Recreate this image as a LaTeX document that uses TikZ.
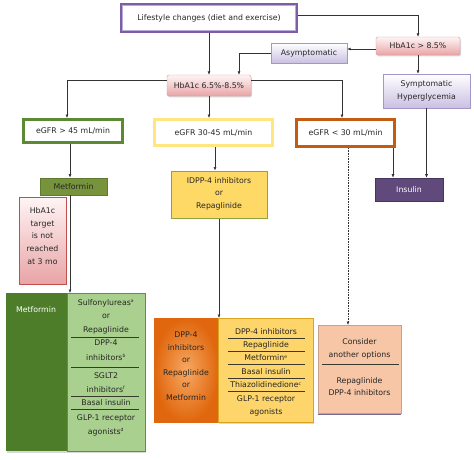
\documentclass[tikz,border=0pt]{standalone}
\usepackage{fontspec}
\setmainfont{DejaVu Sans}
\usetikzlibrary{arrows.meta,shadows,calc}
\definecolor{txt}{HTML}{262626}
\definecolor{arrc}{HTML}{333333}
\definecolor{purpL}{HTML}{7E5DA6}
\definecolor{purpI}{HTML}{B9ABD9}
\definecolor{pinkT}{HTML}{FFF4F4}
\definecolor{pinkB}{HTML}{E8A4A6}
\definecolor{pinkD}{HTML}{D49A9C}
\definecolor{lavT}{HTML}{FFFFFF}
\definecolor{lavB}{HTML}{C9C0E2}
\definecolor{lavD}{HTML}{A496C6}
\definecolor{greenB}{HTML}{5B8A32}
\definecolor{metF}{HTML}{77933C}
\definecolor{metD}{HTML}{5E7A2E}
\definecolor{yelB}{HTML}{FFE680}
\definecolor{yelF}{HTML}{FFD966}
\definecolor{oliveB}{HTML}{8FA345}
\definecolor{orgB}{HTML}{C55A11}
\definecolor{insF}{HTML}{604A7B}
\definecolor{insD}{HTML}{45355E}
\definecolor{tgtB}{HTML}{C0504D}
\definecolor{dkG}{HTML}{4E7D2A}
\definecolor{ltG}{HTML}{A9D08E}
\definecolor{blueB}{HTML}{4A86B4}
\definecolor{orgIn}{HTML}{F7A862}
\definecolor{orgOut}{HTML}{E0670E}
\definecolor{yelR}{HTML}{FDD56A}
\definecolor{yelRB}{HTML}{D9A520}
\definecolor{peach}{HTML}{F6C6A6}
\definecolor{peachB}{HTML}{C9A08A}
\definecolor{conSh}{HTML}{6B5B8C}
\definecolor{sepC}{HTML}{3A3A2A}
\newcommand{\mysup}[1]{\textsuperscript{\fontsize{4.5}{5}\selectfont #1}}
\begin{document}
\begin{tikzpicture}[x=1pt,y=-1pt,
  font=\fontsize{7.8}{12.6}\selectfont,
  box/.style={rectangle, inner sep=0pt, align=center, text=txt},
  shad/.style={drop shadow={shadow xshift=1pt,shadow yshift=-1.3pt,opacity=0.3}},
  pinkbox/.style={box, draw=pinkD, top color=pinkT, bottom color=pinkB, rounded corners=1.5pt, shad},
  lavbox/.style={box, draw=lavD, top color=lavT, bottom color=lavB, shad},
  txtn/.style={inner sep=0pt, align=center, text=txt},
  arr/.style={draw=arrc, line width=0.6pt, -{Latex[length=3.5pt,width=3pt]}},
  sepl/.style={draw=sepC, line width=0.7pt},
]
\useasboundingbox (0,0) rectangle (474,459);
\fill[white] (0,0) rectangle (474,459);

% top level
\node[box, draw=purpL, line width=2.6pt, fill=white, minimum width=176pt, minimum height=28pt, shad] (L) at (209,18) {Lifestyle changes (diet and exercise)};
\draw[purpI, line width=0.7pt] ([shift={(2.6pt,-2.6pt)}]L.north west) rectangle ([shift={(-2.6pt,2.6pt)}]L.south east);

\node[pinkbox, minimum width=84pt, minimum height=18pt] (H85) at (418,46) {HbA1c > 8.5\%};
\node[lavbox, minimum width=76pt, minimum height=20pt] (Asym) at (309,53) {Asymptomatic};
\node[pinkbox, minimum width=84pt, minimum height=21pt] (H65) at (209,85.5) {HbA1c 6.5\%-8.5\%};
\node[lavbox, minimum width=87pt, minimum height=34pt] (Sym) at (426.5,91) {Symptomatic\\Hyperglycemia};

% eGFR level
\node[box, draw=greenB, line width=3pt, fill=white, minimum width=99pt, minimum height=23pt] (E45) at (73,131) {eGFR > 45 mL/min};
\node[box, draw=yelB, line width=3pt, fill=white, minimum width=118pt, minimum height=26pt] (E3045) at (213.5,132.5) {eGFR 30-45 mL/min};
\node[box, draw=orgB, line width=3pt, fill=white, minimum width=98pt, minimum height=27pt] (E30) at (345.5,133) {eGFR < 30 mL/min};

\node[box, fill=metF, draw=metD, line width=0.8pt, minimum width=67pt, minimum height=17pt, shad] (Met) at (73.5,186.5) {Metformin};
\node[box, fill=yelF, draw=oliveB, line width=1pt, minimum width=96pt, minimum height=47pt, shad] (IDPP) at (219,194.5) {};
\node[txtn] (IDPPt1) at (219,181) {IDPP-4 inhibitors};
\node[txtn] (IDPPt2) at (219,193) {or};
\node[txtn] (IDPPt3) at (219,206) {Repaglinide};
\node[box, fill=insF, draw=insD, line width=0.6pt, text=white, minimum width=68pt, minimum height=23pt, shad] (Ins) at (409,189.5) {Insulin};

\node[box, draw=tgtB, line width=0.6pt, top color=pinkT, bottom color=pinkB, minimum width=47pt, minimum height=87pt, shad] (Tgt) at (42.5,240.5) {};
\node[txtn, font=\fontsize{7.8}{12.8}\selectfont] (Tgtt) at (42.5,236) {HbA1c\\target\\is not\\reached\\at 3 mo};

% bottom left composite
\node[box, fill=dkG, minimum width=61pt, minimum height=158pt, anchor=north west, shad] (BGd) at (6,293) {};
\node[box, fill=ltG, draw=blueB, line width=0.8pt, minimum width=78pt, minimum height=158pt, anchor=north west, shad] (BGl) at (67,293) {};
\node[txtn, text=white] (BGdt) at (36,310) {Metformin};
\node[txtn] (g1) at (106,303) {Sulfonylureas\mysup{a}};
\node[txtn] (g2) at (106,316) {or};
\node[txtn] (g3) at (106,330) {Repaglinide};
\node[txtn] (g4) at (106,343) {DPP-4};
\node[txtn] (g5) at (106,357) {inhibitors\mysup{b}};
\node[txtn] (g6) at (106,376) {SGLT2};
\node[txtn] (g7) at (106,389) {inhibitors\mysup{f}};
\node[txtn] (g8) at (106,403) {Basal insulin};
\node[txtn] (g9) at (106,418) {GLP-1 receptor};
\node[txtn] (g10) at (106,432) {agonists\mysup{d}};
\draw[sepl] (71,337) -- (139,337);
\draw[sepl] (71,367) -- (139,367);
\draw[sepl] (71,396) -- (139,396);
\draw[sepl] (71,409) -- (139,409);

% bottom middle composite
\node[box, shading=radial, inner color=orgIn, outer color=orgOut, minimum width=64pt, minimum height=104pt, anchor=north west] (OR) at (154,318) {};
\node[box, fill=yelR, draw=yelRB, line width=0.5pt, minimum width=95pt, minimum height=104pt, anchor=north west, shad] (YR) at (218,318) {};
\node[txtn] (OR1) at (186,335) {DPP-4};
\node[txtn] (OR2) at (186,348) {inhibitors};
\node[txtn] (OR3) at (186,360) {or};
\node[txtn] (OR4) at (186,373) {Repaglinide};
\node[txtn] (OR5) at (186,385) {or};
\node[txtn] (OR6) at (186,398) {Metformin};
\node[txtn] (y1) at (266,332) {DPP-4 inhibitors};
\node[txtn] (y2) at (266,345) {Repaglinide};
\node[txtn] (y3) at (266,358) {Metformin\mysup{e}};
\node[txtn] (y4) at (266,372) {Basal insulin};
\node[txtn] (y5) at (266,385) {Thiazolidinedione\mysup{c}};
\node[txtn] (y6) at (266,399) {GLP-1 receptor};
\node[txtn] (y7) at (266,412) {agonists};
\draw[sepl] (228,338.5) -- (305,338.5);
\draw[sepl] (228,351.5) -- (305,351.5);
\draw[sepl] (228,364.5) -- (305,364.5);
\draw[sepl] (228,378) -- (305,378);
\draw[sepl] (228,391.5) -- (305,391.5);

% bottom right
\node[box, fill=peach, draw=peachB, line width=0.5pt, minimum width=83pt, minimum height=88pt, anchor=north west, drop shadow={shadow xshift=0pt,shadow yshift=-2pt,fill=conSh,opacity=0.9}] (Con) at (318,325) {};
\node[txtn] (c1) at (359.5,342) {Consider};
\node[txtn] (c2) at (359.5,355) {another options};
\node[txtn] (c3) at (359.5,381) {Repaglinide};
\node[txtn] (c4) at (359.5,393) {DPP-4 inhibitors};
\draw[sepl] (322,364) -- (399,364);

% connectors
\draw[arr] (L.south) -- (L.south |- H65.north);
\draw[arr] ([yshift=3pt]L.east) -| (H85.north);
\draw[arr] ([yshift=-3pt]H85.west) -- ([yshift=-3pt]H85.west -| Asym.east);
\draw[arr] (Asym.west) -| ([xshift=30pt]H65.north);
\draw[arr] (H85.south) -- (H85.south |- Sym.north);
\draw[arr] ([yshift=5.5pt]H65.west) -| ([xshift=-6pt]E45.north);
\draw[arr] ([yshift=5.5pt]H65.east) -| ([xshift=-3.5pt]E30.north);
\draw[arr] (H65.south) -- (H65.south |- E3045.north);
\draw[arr] ([xshift=-3pt]E45.south) -- ([xshift=-3pt]E45.south |- Met.north);
\draw[arr] ([xshift=-3.5pt]Met.south) -- ([xshift=-3.5pt]Met.south |- BGl.north);
\draw[arr] ([xshift=1.5pt]E3045.south) -- ([xshift=1.5pt]E3045.south |- IDPP.north);
\draw[arr] (IDPP.south) -- (IDPP.south |- OR.north);
\draw[arr] ([xshift=-3pt]E30.south east) -- ([xshift=-3pt]E30.south east |- Ins.north);
\draw[arr] (Sym.south) -- (Sym.south |- Ins.north);
\draw[arr, densely dotted] ([xshift=2.5pt]E30.south) -- ([xshift=2.5pt]E30.south |- Con.north);
\end{tikzpicture}
\end{document}
